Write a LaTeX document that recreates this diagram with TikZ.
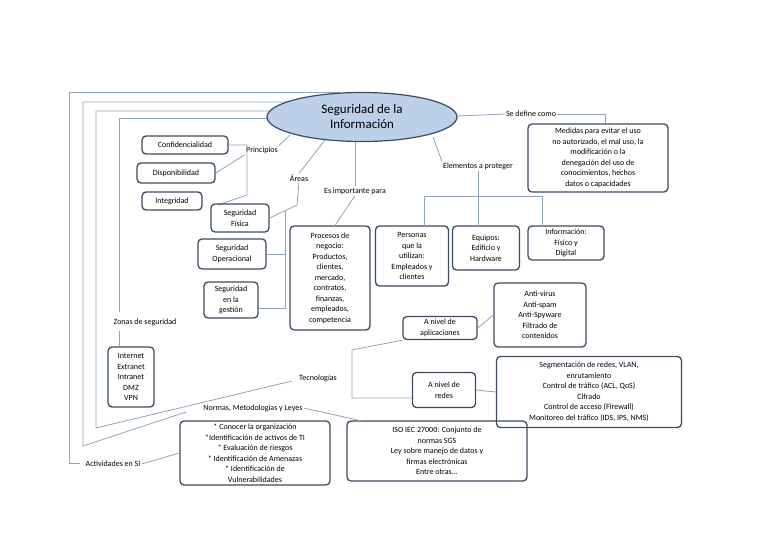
\documentclass[tikz,border=0pt]{standalone}
\usepackage{fontspec}
\setmainfont{Carlito}
\usetikzlibrary{shapes.geometric}
\definecolor{bx}{HTML}{3C4B5E}
\definecolor{ln}{HTML}{8FA3B8}
\definecolor{ef}{HTML}{BCD0EA}
\begin{document}
\begin{tikzpicture}[x=1pt,y=-1pt,
  box/.style={draw=bx,line width=1.3pt,rounded corners=4pt,align=center,font=\fontsize{8}{10.5}\selectfont,inner sep=2pt},
  lbl/.style={font=\fontsize{8}{10}\selectfont,inner sep=1pt,align=center},
  con/.style={draw=ln,line width=0.8pt}]
\useasboundingbox (0,0) rectangle (768,543);
% frames
\draw[con] (340,92) -- (69,92) -- (69,463) -- (80,463);
\draw[con] (288,102) -- (83,102) -- (83,446) -- (186,412);
\draw[con] (270,111) -- (96,111) -- (96,428) -- (292,381);
\draw[con] (267,118) -- (119,118) -- (119,312);
\node[ellipse,draw=bx,line width=1.2pt,fill=ef,minimum width=190pt,minimum height=49pt,font=\fontsize{13}{15}\selectfont,align=center,inner sep=0pt] (root) at (362,117) {Seguridad de la\\Información};
% principios
\node[lbl] (pri) at (262,150) {Principios};
\node[box,minimum width=86pt,minimum height=18pt] (cnf) at (185,145) {Confidencialidad};
\node[box,minimum width=78pt,minimum height=20pt] (dis) at (176,173) {Disponibilidad};
\node[box,minimum width=60pt,minimum height=18pt] (int) at (172,201) {Integridad};
\draw[con] (290,135) -- (pri.north east);
\draw[con] (pri.south west) -- (dis.east);
\draw[con] (cnf.east) -- (247,145) -- (247,195) -- (218,205);
% areas
\node[lbl] (are) at (299,178) {Áreas};
\node[box,minimum width=58pt,minimum height=28pt] (sf) at (240,218) {Seguridad\\Física};
\node[box,minimum width=68pt,minimum height=30pt] (so) at (232,254) {Seguridad\\Operacional};
\node[box,minimum width=54pt,minimum height=36pt] (sg) at (231,300) {Seguridad\\en la\\gestión};
\draw[con] (325,140) -- (are.north);
\draw[con] (are.south) -- (297,205) -- (sf.east);
\draw[con] (285,210) -- (285,308) -- (sg.east |- 0,308);
\draw[con] (so.east) -- (285,254);
% es importante
\node[lbl] (imp) at (355,191) {Es importante para};
\node[box,minimum width=80pt,minimum height=104pt] (pro) at (330,278) {Procesos de\\negocio:\\Productos,\\clientes,\\mercado,\\contratos,\\finanzas,\\empleados,\\competencia};
\draw[con] (root.south -| 355,0) -- (imp.north);
\draw[con] (imp.south) -- (pro.north -| 335,0);
% elementos
\node[lbl] (ele) at (478,166) {Elementos a proteger};
\node[box,minimum width=73pt,minimum height=60pt] (per) at (412,256) {Personas\\que la\\utilizan:\\Empleados y\\clientes};
\node[box,minimum width=67pt,minimum height=44pt] (equ) at (486,248) {Equipos:\\Edificio y\\Hardware};
\node[box,minimum width=76pt,minimum height=34pt] (inf) at (566,243) {Información:\\Físico y\\Digital};
\draw[con] (433,137) -- (ele.north west);
\draw[con] (ele.south -| 478,0) -- (478,226);
\draw[con] (424,226) -- (424,196) -- (542,196) -- (542,226);
% se define
\node[lbl] (def) at (531,114) {Se define como};
\node[box,minimum width=140pt,minimum height=68pt] (med) at (598,158) {Medidas para evitar el uso\\no autorizado, el mal uso, la\\modificación o la\\denegación del uso de\\conocimientos, hechos\\datos o capacidades};
\draw[con] (457,116) -- (def.west);
\draw[con] (def.east) -- (605,114) -- (med.north -| 605,0);
% zonas
\node[lbl] (zon) at (145,322) {Zonas de seguridad};
\node[box,minimum width=46pt,minimum height=60pt] (net) at (131,377) {Internet\\Extranet\\Intranet\\DMZ\\VPN};
\draw[con] (119,331) -- (119,346);
% tecnologias
\node[lbl] (tec) at (318,378) {Tecnologías};
\node[box,minimum width=74pt,minimum height=23pt] (app) at (440,328) {A nivel de\\aplicaciones};
\node[box,minimum width=92pt,minimum height=64pt] (av) at (540,315) {Anti-virus\\Anti-spam\\Anti-Spyware\\Filtrado de\\contenidos};
\node[box,minimum width=63pt,minimum height=35pt] (red) at (444,390) {A nivel de\\redes};
\node[box,minimum width=185pt,minimum height=71pt] (seg) at (589,392) {Segmentación de redes, VLAN,\\enrutamiento\\Control de tráfico (ACL, QoS)\\Cifrado\\Control de acceso (Firewall)\\Monitoreo del tráfico (IDS, IPS, NMS)};
\draw[con] (403,340) -- (352,350) -- (352,398) -- (412,398);
\draw[con] (app.east) -- (av.west);
\draw[con] (red.east) -- (seg.west);
% normas
\node[lbl] (nor) at (253,408) {Normas, Metodologías y Leyes};
\node[box,minimum width=180pt,minimum height=60pt] (iso) at (437,451) {ISO IEC 27000: Conjunto de\\normas SGS\\Ley sobre manejo de datos y\\firmas electrónicas\\Entre otras...};
\draw[con] (nor.east) -- (362,421);
% actividades
\node[lbl] (act) at (113,464) {Actividades en SI};
\node[box,minimum width=150pt,minimum height=64pt] (acb) at (255,453) {* Conocer la organización\\*Identificación de activos de TI\\* Evaluación de riesgos\\* Identificación de Amenazas\\* Identificación de\\Vulnerabilidades};
\draw[con] (act.east) -- (acb.west);
\end{tikzpicture}
\end{document}
